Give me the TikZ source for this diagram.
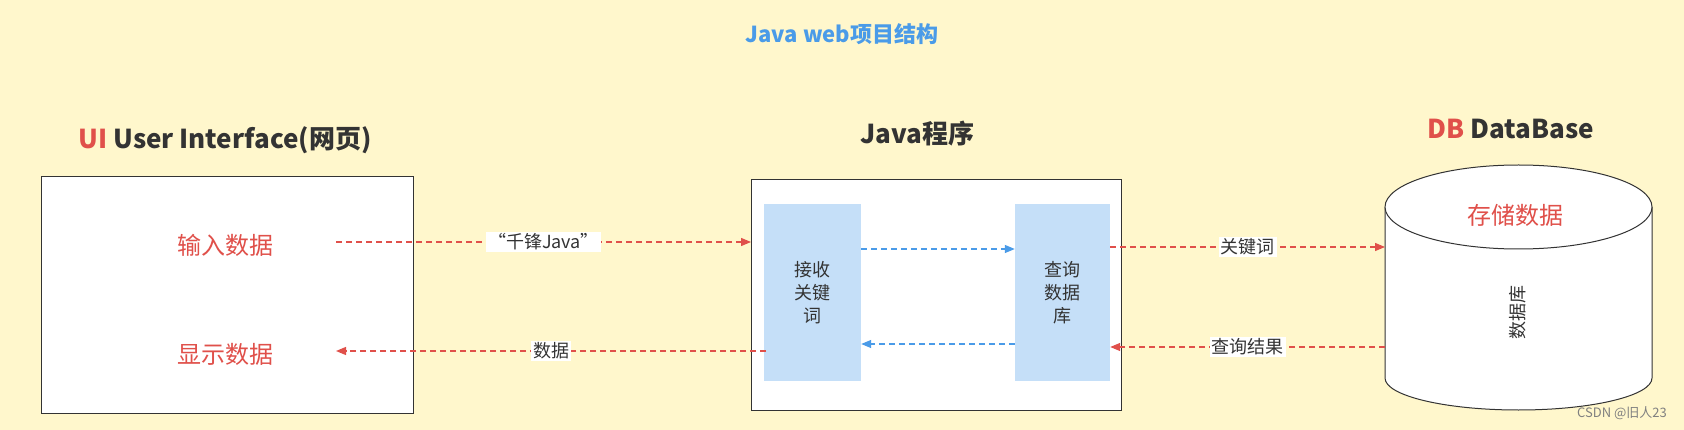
\documentclass[tikz,border=0pt]{standalone}
\usepackage{fontspec}
\setmainfont{Noto Sans CJK SC}
\usetikzlibrary{arrows.meta,shapes.geometric}
\definecolor{bg}{HTML}{FFF7CC}
\definecolor{rd}{HTML}{E0504A}
\definecolor{bl}{HTML}{4A9BE8}
\definecolor{lb}{HTML}{C5DFF8}
\definecolor{dk}{HTML}{333333}
\tikzset{
 rarr/.style={rd,dashed,dash pattern=on 6pt off 4pt,line width=1.2pt,-{Triangle[length=10pt,width=8pt]}},
 barr/.style={bl,dashed,dash pattern=on 6pt off 4pt,line width=1.2pt,-{Triangle[length=10pt,width=8pt]}},
 lbl/.style={fill=white,inner sep=2pt,text=dk,font=\fontsize{18}{21}\selectfont},
 hdr/.style={text=dk,font=\bfseries\fontsize{26}{30}\selectfont},
 box/.style={draw=dk,line width=1pt,fill=white},
 inner/.style={fill=lb,text=dk,font=\fontsize{18}{23}\selectfont,align=center},
 rtxt/.style={text=rd,font=\fontsize{24}{28}\selectfont}
}
\begin{document}
\begin{tikzpicture}[x=1pt,y=-1pt]
\fill[bg] (0,0) rectangle (1684,430);
\useasboundingbox (0,0) rectangle (1684,430);
\node[text=bl,font=\bfseries\fontsize{22}{26}\selectfont] (title) at (842,34) {Java web项目结构};
\node[hdr] (uih) at (225,140) {\textcolor{rd}{UI} User Interface(网页)};
\node[hdr] (jh) at (917,134) {Java程序};
\node[hdr] (dbh) at (1511,129) {\textcolor{rd}{DB} DataBase};
\node[box,minimum width=372pt,minimum height=236pt] (ui) at (227,295) {};
\node[rtxt] (in) at (225,245) {输入数据};
\node[rtxt] (out) at (225,354) {显示数据};
\node[box,minimum width=370pt,minimum height=230pt] (jv) at (936,295) {};
\node[inner,minimum width=97pt,minimum height=177pt] (recv) at (812.5,292.5) {接收\\关键\\词};
\node[inner,minimum width=95pt,minimum height=177pt] (qry) at (1062.5,292.5) {查询\\数据\\库};
% cylinder
\fill[white,draw=dk,line width=1pt] (1385,207) -- (1385,378) arc[start angle=180,end angle=0,x radius=133.5,y radius=32] -- (1652,207);
\draw[fill=white,draw=dk,line width=1pt] (1518.5,207) ellipse[x radius=133.5,y radius=42];
\coordinate (dbl1) at (1385,247);
\coordinate (dbl2) at (1385,347);
\node[rtxt] (store) at (1515,215) {存储数据};
\node[text=dk,rotate=90,font=\fontsize{18}{21}\selectfont] (dbt) at (1518,313) {数据库};
\coordinate (a1) at (336,242);
\coordinate (a2) at (751,242);
\coordinate (b1) at (766,351);
\coordinate (b2) at (336,351);
\draw[rarr] (a1) -- node[lbl]{“千锋Java”} (a2);
\draw[rarr] (b1) -- node[lbl]{数据} (b2);
\draw[barr] (recv.east|-0,249) -- (qry.west|-0,249);
\draw[barr] (qry.west|-0,344) -- (recv.east|-0,344);
\draw[rarr] (qry.east|-0,247) -- node[lbl]{关键词} (dbl1);
\draw[rarr] (dbl2) -- node[lbl]{查询结果} (qry.east|-0,347);
\node[text=gray,font=\fontsize{13}{15}\selectfont] (wm) at (1622,413) {CSDN @旧人23};
\end{tikzpicture}
\end{document}
